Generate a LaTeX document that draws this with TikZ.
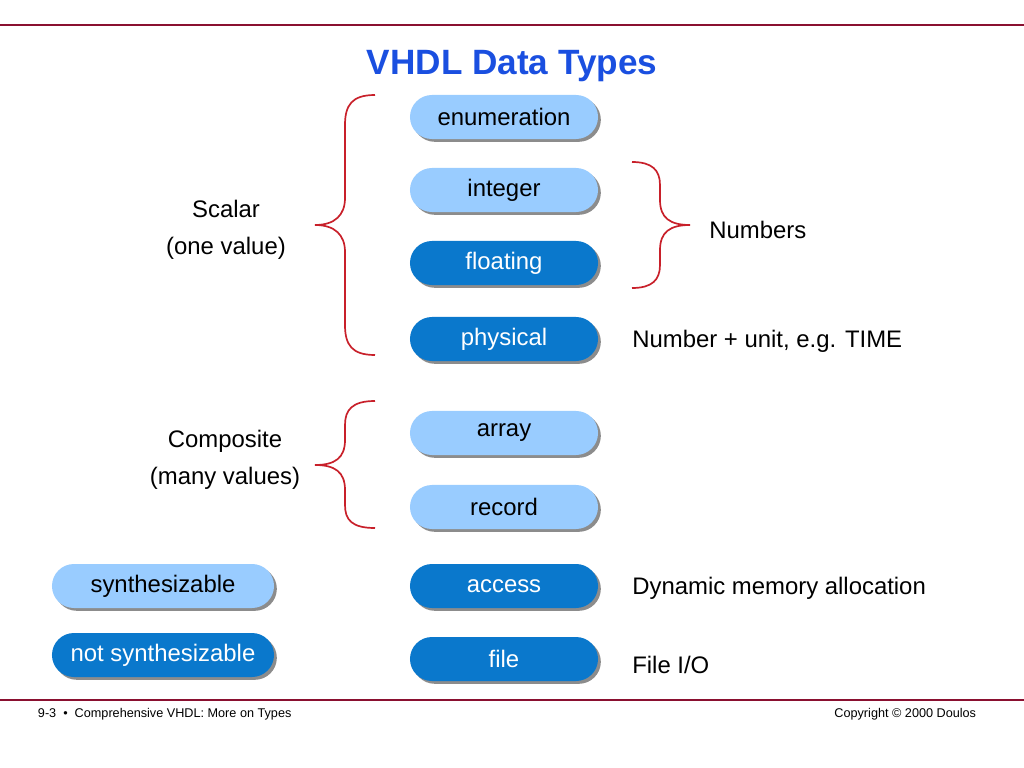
\documentclass[tikz,border=0pt]{standalone}
\usepackage{fontspec}
\setmainfont{Liberation Sans}
\usetikzlibrary{shadows}
\definecolor{lightpill}{HTML}{99CCFF}
\definecolor{darkpill}{HTML}{0A78CC}
\definecolor{titleblue}{HTML}{1A4FE0}
\definecolor{rule}{HTML}{8A1030}
\definecolor{bracered}{HTML}{C8202A}
\tikzstyle{pill} = [rectangle, rounded corners=0.55cm, minimum width=4.7cm,
minimum height=1.1cm, text centered, inner sep=0pt, font=\fontsize{17}{20}\selectfont,
drop shadow={shadow xshift=2pt, shadow yshift=-2pt, fill=black!45, opacity=1}]
\tikzstyle{light} = [pill, fill=lightpill, text=black]
\tikzstyle{dark} = [pill, fill=darkpill, text=white]
\tikzstyle{label} = [font=\fontsize{17}{20}\selectfont, inner sep=0pt]
\tikzstyle{brace} = [bracered, line width=1.2pt]

\begin{document}
\begin{tikzpicture}[x=0.025cm, y=-0.025cm]
\useasboundingbox (0,0) rectangle (1024,768);

% rules and title
\draw[rule, line width=1.2pt] (0,25) -- (1024,25);
\draw[rule, line width=1.2pt] (0,700) -- (1024,700);
\node(title)[font=\fontsize{25}{30}\selectfont\bfseries, text=titleblue] at (512,66) {VHDL Data Types};

% type pills
\node(enum)[light] at (504,117) {enumeration};
\node(int)[light] at (504,190) {integer};
\node(float)[dark] at (504,263) {floating};
\node(phys)[dark] at (504,339) {physical};
\node(arr)[light] at (504,433) {array};
\node(rec)[light] at (504,507) {record};
\node(acc)[dark] at (504,586) {access};
\node(file)[dark] at (504,659) {file};

% legend
\node(synth)[light, minimum width=5.55cm] at (163,586) {synthesizable};
\node(nosynth)[dark, minimum width=5.55cm] at (163,655) {not synthesizable};

% braces
\draw[brace] (375,95) .. controls (352,95) and (345,105) .. (345,125) -- (345,198)
.. controls (345,215) and (335,225) .. (315,225)
.. controls (335,225) and (345,235) .. (345,252) -- (345,325)
.. controls (345,345) and (352,355) .. (375,355);
\draw[brace] (375,401) .. controls (352,401) and (345,410) .. (345,425) -- (345,440)
.. controls (345,458) and (335,465) .. (315,465)
.. controls (335,465) and (345,472) .. (345,490) -- (345,505)
.. controls (345,520) and (352,528) .. (375,528);
\draw[brace] (632,162) .. controls (652,162) and (660,170) .. (660,185) -- (660,200)
.. controls (660,218) and (670,225) .. (690,225)
.. controls (670,225) and (660,232) .. (660,250) -- (660,265)
.. controls (660,280) and (652,288) .. (632,288);

% labels
\node(scalar)[label, align=center] at (226,230) {Scalar\\[6pt](one value)};
\node(comp)[label, align=center] at (225,460) {Composite\\[6pt](many values)};
\node(num)[label, anchor=west] at (709,230) {Numbers};
\node(unit)[label, anchor=west] at (632,341) {Number + unit, e.g. TIME};
\node(dyn)[label, anchor=west] at (632,588) {Dynamic memory allocation};
\node(fio)[label, anchor=west] at (632,665) {File I/O};

% footer
\node(foot)[anchor=west, font=\fontsize{9}{11}\selectfont] at (33,714) {9-3\ \ \textbullet\ \ Comprehensive VHDL: More on Types};
\node(copy)[anchor=east, font=\fontsize{9}{11}\selectfont] at (981,714) {Copyright \textcopyright\ 2000 Doulos};

\end{tikzpicture}
\end{document}
